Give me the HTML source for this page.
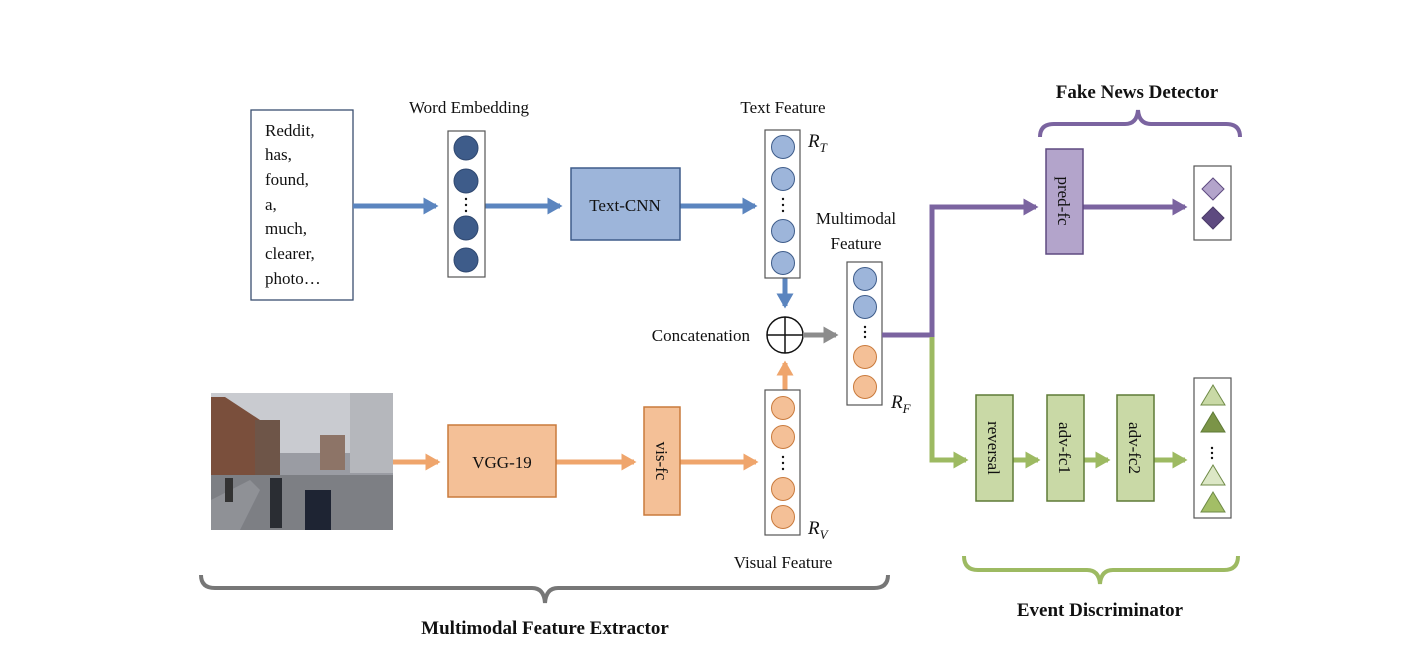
<!DOCTYPE html>
<html><head><meta charset="utf-8"><style>
html,body{margin:0;padding:0;background:#fff;}
svg text{font-family:"Liberation Serif",serif;fill:#111;}
</style></head><body>
<svg width="1424" height="662" viewBox="0 0 1424 662" xmlns="http://www.w3.org/2000/svg">
<defs>
<marker id="ab" markerWidth="4" markerHeight="4" refX="2.5" refY="2" orient="auto" markerUnits="strokeWidth"><path d="M0,0.3 L3,2 L0,3.7 z" fill="#5B85BF"/></marker>
<marker id="ao" markerWidth="4" markerHeight="4" refX="2.5" refY="2" orient="auto" markerUnits="strokeWidth"><path d="M0,0.3 L3,2 L0,3.7 z" fill="#EFA56C"/></marker>
<marker id="ag" markerWidth="4" markerHeight="4" refX="2.5" refY="2" orient="auto" markerUnits="strokeWidth"><path d="M0,0.3 L3,2 L0,3.7 z" fill="#8C8C8C"/></marker>
<marker id="ap" markerWidth="4" markerHeight="4" refX="2.5" refY="2" orient="auto" markerUnits="strokeWidth"><path d="M0,0.3 L3,2 L0,3.7 z" fill="#7B64A0"/></marker>
<marker id="an" markerWidth="4" markerHeight="4" refX="2.5" refY="2" orient="auto" markerUnits="strokeWidth"><path d="M0,0.3 L3,2 L0,3.7 z" fill="#9DBA62"/></marker>
</defs>

<!-- text input box -->
<rect x="251" y="110" width="102" height="190" fill="#fff" stroke="#3A4F70" stroke-width="1.3"/>
<g font-size="17">
<text x="265" y="136">Reddit,</text>
<text x="265" y="160">has,</text>
<text x="265" y="185">found,</text>
<text x="265" y="210">a,</text>
<text x="265" y="234">much,</text>
<text x="265" y="259">clearer,</text>
<text x="265" y="284">photo…</text>
</g>
<text x="469" y="113" font-size="17" text-anchor="middle">Word Embedding</text>

<!-- blue arrows -->
<g stroke="#5B85BF" stroke-width="5" fill="none">
<line x1="353" y1="206" x2="436" y2="206" marker-end="url(#ab)"/>
<line x1="485" y1="206" x2="560" y2="206" marker-end="url(#ab)"/>
<line x1="680" y1="206" x2="755" y2="206" marker-end="url(#ab)"/>
<line x1="785" y1="278" x2="785" y2="306" marker-end="url(#ab)"/>
</g>

<!-- word embedding box -->
<rect x="448" y="131" width="37" height="146" fill="#fff" stroke="#555" stroke-width="1.2"/>
<g fill="#3E5C8A" stroke="#2F4870" stroke-width="1">
<circle cx="466" cy="148" r="12"/><circle cx="466" cy="181" r="12"/>
<circle cx="466" cy="228" r="12"/><circle cx="466" cy="260" r="12"/>
</g>
<g fill="#111"><circle cx="466" cy="199" r="1.2"/><circle cx="466" cy="205" r="1.2"/><circle cx="466" cy="211" r="1.2"/></g>

<!-- Text-CNN -->
<rect x="571" y="168" width="109" height="72" fill="#9DB5DA" stroke="#3E5C8A" stroke-width="1.5"/>
<text x="625" y="211" font-size="17" text-anchor="middle">Text-CNN</text>

<!-- text feature -->
<text x="783" y="113" font-size="17" text-anchor="middle">Text Feature</text>
<rect x="765" y="130" width="35" height="148" fill="#fff" stroke="#555" stroke-width="1.2"/>
<g fill="#9DB5DA" stroke="#3E5C8A" stroke-width="1">
<circle cx="783" cy="147" r="11.5"/><circle cx="783" cy="179" r="11.5"/>
<circle cx="783" cy="231" r="11.5"/><circle cx="783" cy="263" r="11.5"/>
</g>
<g fill="#111"><circle cx="783" cy="199" r="1.2"/><circle cx="783" cy="205" r="1.2"/><circle cx="783" cy="211" r="1.2"/></g>
<text x="808" y="147" font-size="19" font-style="italic">R<tspan font-size="13" dy="5">T</tspan></text>

<!-- concat -->
<text x="750" y="341" font-size="17" text-anchor="end">Concatenation</text>
<circle cx="785" cy="335" r="18" fill="#fff" stroke="#111" stroke-width="1.5"/>
<line x1="767" y1="335" x2="803" y2="335" stroke="#111" stroke-width="1.5"/>
<line x1="785" y1="317" x2="785" y2="353" stroke="#111" stroke-width="1.5"/>
<line x1="803" y1="335" x2="836" y2="335" stroke="#8C8C8C" stroke-width="5" marker-end="url(#ag)"/>

<!-- multimodal feature -->
<text x="856" y="224" font-size="17" text-anchor="middle">Multimodal</text>
<text x="856" y="249" font-size="17" text-anchor="middle">Feature</text>
<rect x="847" y="262" width="35" height="143" fill="#fff" stroke="#555" stroke-width="1.2"/>
<g stroke-width="1">
<circle cx="865" cy="279" r="11.5" fill="#9DB5DA" stroke="#3E5C8A"/>
<circle cx="865" cy="307" r="11.5" fill="#9DB5DA" stroke="#3E5C8A"/>
<circle cx="865" cy="357" r="11.5" fill="#F4C097" stroke="#C97A3C"/>
<circle cx="865" cy="387" r="11.5" fill="#F4C097" stroke="#C97A3C"/>
</g>
<g fill="#111"><circle cx="865" cy="327" r="1.2"/><circle cx="865" cy="332" r="1.2"/><circle cx="865" cy="337" r="1.2"/></g>
<text x="891" y="408" font-size="19" font-style="italic">R<tspan font-size="13" dy="5">F</tspan></text>

<!-- image -->
<rect x="211" y="393" width="182" height="137" fill="#9A9CA3"/>
<rect x="211" y="393" width="182" height="60" fill="#C9CBD0"/>
<rect x="350" y="393" width="43" height="80" fill="#B5B7BC"/>
<path d="M211,397 L225,397 L260,420 L260,490 L211,500 Z" fill="#7A4F3C"/>
<rect x="255" y="420" width="25" height="55" fill="#6E5548"/>
<rect x="320" y="435" width="25" height="35" fill="#8D7467"/>
<rect x="211" y="475" width="182" height="55" fill="#7D7F84"/>
<path d="M211,500 L250,480 L260,490 L240,530 L211,530 Z" fill="#8F9196"/>
<rect x="270" y="478" width="12" height="50" fill="#2A2D33"/>
<rect x="305" y="490" width="26" height="40" fill="#1E2433"/>
<rect x="225" y="478" width="8" height="24" fill="#333"/>

<!-- orange arrows -->
<g stroke="#EFA56C" stroke-width="5" fill="none">
<line x1="393" y1="462" x2="438" y2="462" marker-end="url(#ao)"/>
<line x1="556" y1="462" x2="634" y2="462" marker-end="url(#ao)"/>
<line x1="680" y1="462" x2="756" y2="462" marker-end="url(#ao)"/>
<line x1="785" y1="390" x2="785" y2="363" marker-end="url(#ao)"/>
</g>
<rect x="448" y="425" width="108" height="72" fill="#F4C097" stroke="#C97A3C" stroke-width="1.5"/>
<text x="502" y="468" font-size="17" text-anchor="middle">VGG-19</text>
<rect x="644" y="407" width="36" height="108" fill="#F4C097" stroke="#C97A3C" stroke-width="1.5"/>
<text transform="translate(656,461) rotate(90)" font-size="17" text-anchor="middle">vis-fc</text>

<!-- visual feature -->
<rect x="765" y="390" width="35" height="145" fill="#fff" stroke="#555" stroke-width="1.2"/>
<g fill="#F4C097" stroke="#C97A3C" stroke-width="1">
<circle cx="783" cy="408" r="11.5"/><circle cx="783" cy="437" r="11.5"/>
<circle cx="783" cy="489" r="11.5"/><circle cx="783" cy="517" r="11.5"/>
</g>
<g fill="#111"><circle cx="783" cy="457" r="1.2"/><circle cx="783" cy="463" r="1.2"/><circle cx="783" cy="469" r="1.2"/></g>
<text x="808" y="534" font-size="19" font-style="italic">R<tspan font-size="13" dy="5">V</tspan></text>
<text x="783" y="568" font-size="17" text-anchor="middle">Visual Feature</text>

<!-- purple path -->
<polyline points="882,335 932,335 932,207 1036,207" fill="none" stroke="#7B64A0" stroke-width="5" marker-end="url(#ap)"/>
<line x1="1083" y1="207" x2="1185" y2="207" stroke="#7B64A0" stroke-width="5" marker-end="url(#ap)"/>
<!-- green path -->
<polyline points="932,337 932,460 966,460" fill="none" stroke="#9DBA62" stroke-width="5" marker-end="url(#an)"/>
<g stroke="#9DBA62" stroke-width="5">
<line x1="1013" y1="460" x2="1038" y2="460" marker-end="url(#an)"/>
<line x1="1084" y1="460" x2="1108" y2="460" marker-end="url(#an)"/>
<line x1="1154" y1="460" x2="1185" y2="460" marker-end="url(#an)"/>
</g>

<!-- pred-fc -->
<rect x="1046" y="149" width="37" height="105" fill="#B3A4CB" stroke="#5E4A80" stroke-width="1.5"/>
<text transform="translate(1058,201) rotate(90)" font-size="17" text-anchor="middle">pred-fc</text>
<rect x="1194" y="166" width="37" height="74" fill="#fff" stroke="#555" stroke-width="1.2"/>
<path d="M1213,178 L1224,189 L1213,200 L1202,189 Z" fill="#B3A4CB" stroke="#5E4A80"/>
<path d="M1213,207 L1224,218 L1213,229 L1202,218 Z" fill="#5E4A80" stroke="#4A3A68"/>

<!-- green boxes -->
<g fill="#C9D9A6" stroke="#5E7A36" stroke-width="1.5">
<rect x="976" y="395" width="37" height="106"/>
<rect x="1047" y="395" width="37" height="106"/>
<rect x="1117" y="395" width="37" height="106"/>
</g>
<text transform="translate(988,448) rotate(90)" font-size="17" text-anchor="middle">reversal</text>
<text transform="translate(1059,448) rotate(90)" font-size="17" text-anchor="middle">adv-fc1</text>
<text transform="translate(1129,448) rotate(90)" font-size="17" text-anchor="middle">adv-fc2</text>
<rect x="1194" y="378" width="37" height="140" fill="#fff" stroke="#555" stroke-width="1.2"/>
<path d="M1213,385 L1225,405 L1201,405 Z" fill="#C9D9A6" stroke="#6E8A46"/>
<path d="M1213,412 L1225,432 L1201,432 Z" fill="#7B9447" stroke="#5E7A36"/>
<path d="M1213,465 L1225,485 L1201,485 Z" fill="#DCE7C6" stroke="#6E8A46"/>
<path d="M1213,492 L1225,512 L1201,512 Z" fill="#A3BE66" stroke="#6E8A46"/>
<g fill="#111"><circle cx="1212" cy="448" r="1.2"/><circle cx="1212" cy="453" r="1.2"/><circle cx="1212" cy="458" r="1.2"/></g>

<!-- braces -->
<path d="M1040,137 Q1040,124 1054,124 L1125,124 Q1137,124 1138,110 Q1139,124 1151,124 L1226,124 Q1240,124 1240,137" fill="none" stroke="#7B64A0" stroke-width="4"/>
<text x="1137" y="98" font-size="19" font-weight="bold" text-anchor="middle">Fake News Detector</text>
<path d="M964,556 Q964,570 978,570 L1087,570 Q1099,570 1100,584 Q1101,570 1113,570 L1224,570 Q1238,570 1238,556" fill="none" stroke="#9DBA62" stroke-width="4"/>
<text x="1100" y="616" font-size="19" font-weight="bold" text-anchor="middle">Event Discriminator</text>
<path d="M201,575 Q201,588 215,588 L532,588 Q544,588 545,603 Q546,588 558,588 L874,588 Q888,588 888,575" fill="none" stroke="#777" stroke-width="4"/>
<text x="545" y="634" font-size="19" font-weight="bold" text-anchor="middle">Multimodal Feature Extractor</text>
</svg>
</body></html>
